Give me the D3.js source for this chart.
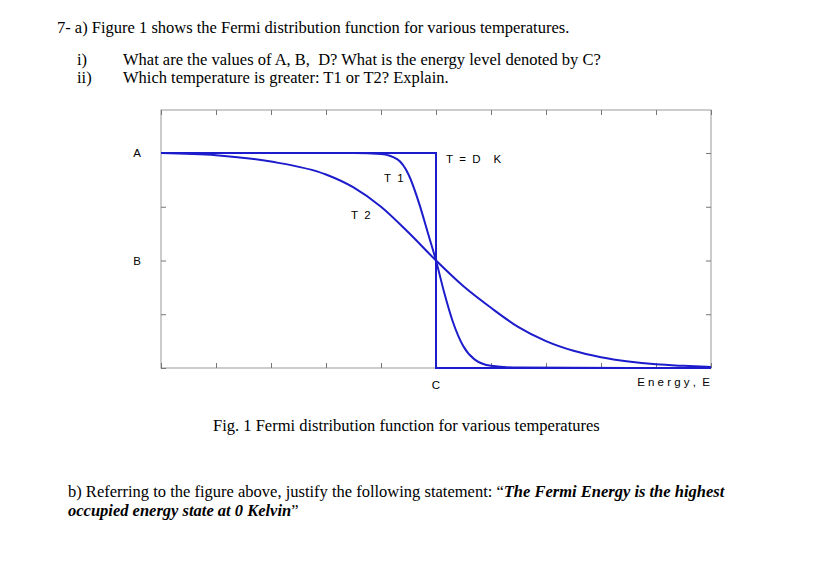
<!DOCTYPE html><html><head><meta charset="utf-8"><script src="https://d3js.org/d3.v7.min.js"></script>
<style>body{margin:0;background:#fff} text{white-space:pre}</style></head><body><svg id="c" width="815" height="569"></svg>
<script>
const xTicks=[0,1,2,3,4,5,6,7,8,9,10];
const yTicks=[0,0.25,0.5,0.75,1];
const t0=[[0,1],[5,1],[5,0],[10,0]];
const t1=[[0,1],[3.5,1],[4,0.995],[4.3,0.97],[4.5,0.9],[4.7,0.76],[4.85,0.63],[5,0.5],[5.15,0.35],[5.3,0.22],[5.5,0.1],[5.7,0.04],[6,0.01],[6.5,0.002],[10,0]];
const t2=[[0,1],[1,0.99],[2,0.96],[3,0.9],[3.5,0.84],[4,0.75],[4.5,0.63],[5,0.5],[5.5,0.38],[6,0.28],[6.5,0.19],[7,0.125],[7.5,0.08],[8,0.05],[8.5,0.03],[9,0.017],[9.5,0.01],[10,0.005]];
const yLabels=[{v:1,t:"A"},{v:0.5,t:"B"}];
const svg=d3.select("#c");
const x=d3.scaleLinear().domain([0,10]).range([161,711]);
const y=d3.scaleLinear().domain([0,1.2]).range([368,110]);
const serif="'Liberation Serif','Times New Roman',serif", sans="'Liberation Sans',Arial,sans-serif";
const T=(px,py,s,o={})=>svg.append("text").attr("x",px).attr("y",py).attr("font-family",o.f||serif).attr("font-size",o.fs||16.5).attr("text-anchor",o.a||"start").attr("letter-spacing",o.ls||null).text(s);
T(57,33,"7- a) Figure 1 shows the Fermi distribution function for various temperatures.");
T(77,65,"i)");T(123,65,"What are the values of A, B,  D? What is the energy level denoted by C?");
T(77,83,"ii)");T(123,83,"Which temperature is greater: T1 or T2? Explain.");
T(213,431,"Fig. 1 Fermi distribution function for various temperatures");
const b=svg.append("text").attr("x",68).attr("y",497).attr("font-family",serif).attr("font-size",16.5);
b.append("tspan").text("b) Referring to the figure above, justify the following statement: \u201c");
b.append("tspan").attr("font-style","italic").attr("font-weight","bold").text("The Fermi Energy is the highest");
const b2=svg.append("text").attr("x",68).attr("y",516).attr("font-family",serif).attr("font-size",16.5);
b2.append("tspan").attr("font-style","italic").attr("font-weight","bold").text("occupied energy state at 0 Kelvin");
b2.append("tspan").text("\u201d");
svg.append("rect").attr("x",x(0)).attr("y",y(1.2)).attr("width",x(10)-x(0)).attr("height",y(0)-y(1.2)).attr("fill","none").attr("stroke","#999");
const tk=(sel)=>sel.call(a=>a.select(".domain").remove()).selectAll("line").attr("stroke","#777");
tk(svg.append("g").attr("transform",`translate(0,${y(0)})`).call(d3.axisTop(x).tickValues(xTicks).tickSize(5).tickFormat("")));
tk(svg.append("g").attr("transform",`translate(0,${y(1.2)})`).call(d3.axisBottom(x).tickValues(xTicks).tickSize(5).tickFormat("")));
tk(svg.append("g").attr("transform",`translate(${x(0)},0)`).call(d3.axisRight(y).tickValues(yTicks).tickSize(5).tickFormat("")));
tk(svg.append("g").attr("transform",`translate(${x(10)},0)`).call(d3.axisLeft(y).tickValues(yTicks).tickSize(5).tickFormat("")));
const line=d3.line().x(d=>x(d[0])).y(d=>y(d[1]));
const col="#1c1ccc";
svg.append("path").datum(t0).attr("d",line).attr("fill","none").attr("stroke",col).attr("stroke-width",2);
[t1,t2].forEach(s=>svg.append("path").datum(s).attr("d",line.curve(d3.curveMonotoneX)).attr("fill","none").attr("stroke",col).attr("stroke-width",2));
yLabels.forEach(l=>T(137,y(l.v)+4,l.t,{f:sans,fs:11.5,a:"middle"}));
T(x(5),389,"C",{f:sans,fs:11.5,a:"middle"});
T(710,386,"E n e r g y ,  E",{f:sans,fs:11.5,a:"end"});
T(446,163,"T  =  D    K",{f:sans,fs:11.5});
T(384,182,"T  1",{f:sans,fs:11.5});
T(351,219,"T  2",{f:sans,fs:11.5});
</script></body></html>
